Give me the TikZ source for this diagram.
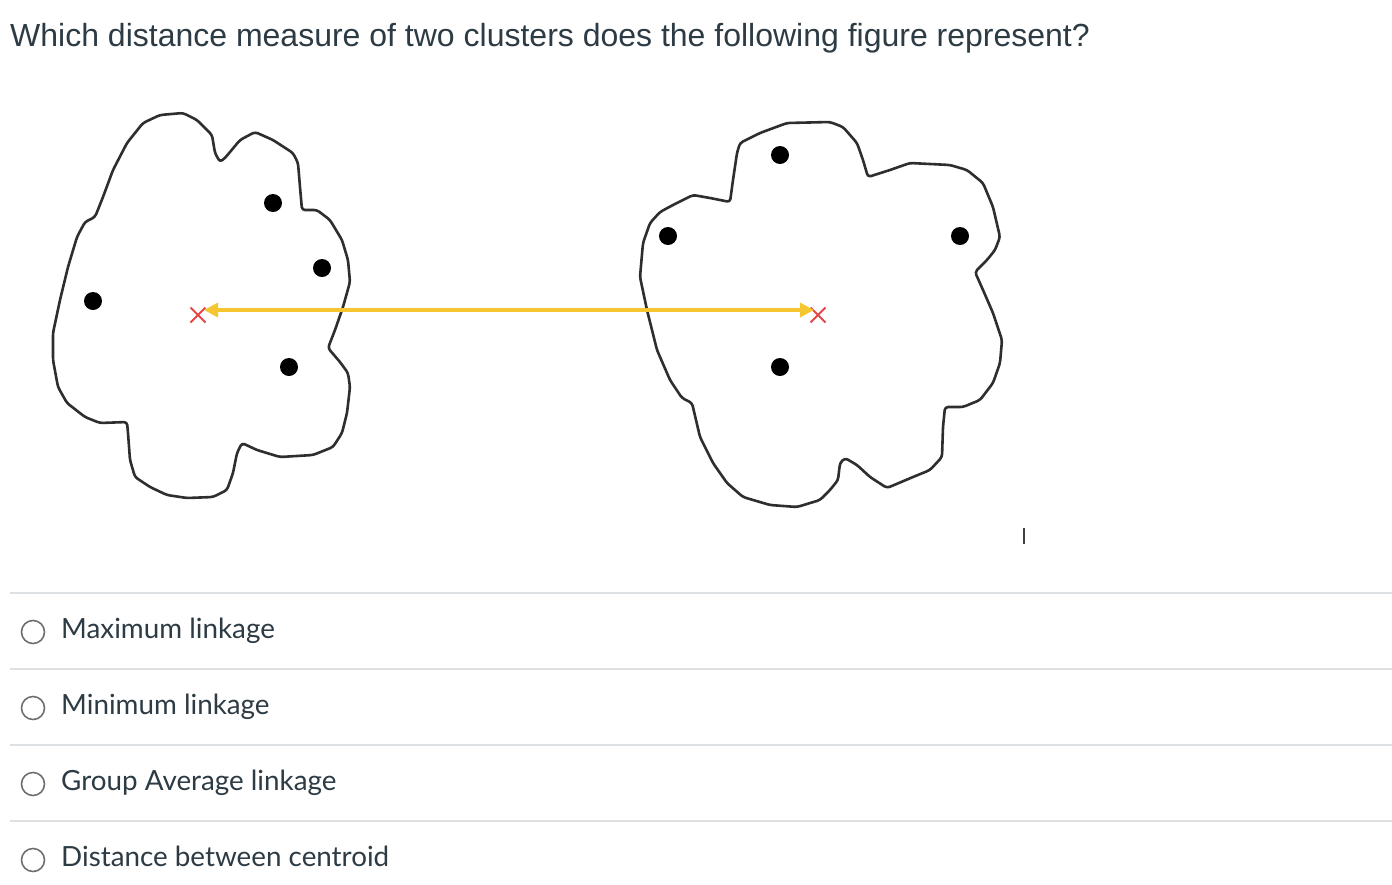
\documentclass[tikz,border=0pt]{standalone}
\usepackage{fontspec}
\setmainfont{Liberation Sans}
\newfontfamily\latofont{Lato}
\usetikzlibrary{shapes.misc,arrows.meta}
\definecolor{txt}{HTML}{2D3B45}
\definecolor{sep}{HTML}{DDE1E4}
\definecolor{radio}{HTML}{6F6F6F}
\definecolor{arrowyel}{HTML}{F6C631}
\definecolor{crossred}{HTML}{E5474B}
\definecolor{outline}{HTML}{2E2E2E}
\begin{document}
\begin{tikzpicture}[x=1pt,y=-1pt,
  blob/.style={draw=outline, line width=2.6pt, line join=round, rounded corners=3pt},
  dotpt/.style={circle, fill=black, inner sep=0pt, minimum size=18pt},
  xmark/.style={cross out, draw=crossred, line width=2pt, inner sep=0pt, minimum size=13pt},
  seprule/.style={draw=sep, line width=1.8pt},
  radiobtn/.style={circle, draw=radio, line width=1.6pt, inner sep=0pt, minimum size=23pt},
  opt/.style={anchor=base west, inner sep=0pt, text=txt, font=\latofont\fontsize{27.8}{32}\selectfont},
  link/.style={draw=arrowyel, line width=4.8pt, {Triangle[length=14pt,width=14pt]}-{Triangle[length=14pt,width=14pt]}}]
\useasboundingbox (0,0) rectangle (1392,884);
\fill[white] (0,0) rectangle (1392,884);

% title
\node[anchor=base west, inner sep=0pt, text=txt, font=\fontsize{32}{38}\selectfont] (title) at (10,46)
  {Which distance measure of two clusters does the following figure represent?};

% left cluster
\draw[blob] (183,113) -- (197,120) -- (212,135) -- (215,153) -- (220,162) -- (225,158) -- (240,140)
  -- (255,132) -- (273,140) -- (293,153) -- (298,163) -- (300,187) -- (302,210) -- (317,210)
  -- (330,220) -- (342,240) -- (348,260) -- (350,282) -- (343,307) -- (335,330) -- (328,348)
  -- (340,362) -- (348,373) -- (350,387) -- (347,413) -- (342,433) -- (333,447) -- (313,455)
  -- (280,457) -- (257,450) -- (242,443) -- (237,453) -- (233,473) -- (227,490) -- (213,497)
  -- (187,498) -- (167,495) -- (150,487) -- (135,477) -- (130,460) -- (128,433) -- (127,422)
  -- (100,423) -- (85,417) -- (67,403) -- (58,387) -- (53,360) -- (53,333) -- (60,300)
  -- (68,267) -- (77,237) -- (85,222) -- (95,217) -- (103,197) -- (113,170) -- (127,143)
  -- (143,123) -- (160,115) -- cycle;
\node[dotpt] (l1) at (273,203) {};
\node[dotpt] (l2) at (322,268) {};
\node[dotpt] (l3) at (93,301) {};
\node[dotpt] (l4) at (289,367) {};

% right cluster
\draw[blob] (740,143) -- (760,133) -- (787,123) -- (830,122) -- (843,127) -- (857,143) -- (863,160)
  -- (868,177) -- (890,170) -- (910,163) -- (950,165) -- (967,170) -- (983,183) -- (993,207)
  -- (1000,237) -- (995,250) -- (987,260) -- (975,272) -- (983,290) -- (993,313) -- (1002,340)
  -- (1000,363) -- (993,383) -- (980,400) -- (963,407) -- (945,407) -- (943,427) -- (942,457)
  -- (930,470) -- (913,477) -- (887,488) -- (870,477) -- (857,465) -- (845,458) -- (840,463)
  -- (838,480) -- (830,490) -- (820,500) -- (797,507) -- (770,505) -- (743,497) -- (727,483)
  -- (713,463) -- (700,437) -- (692,403) -- (682,398) -- (670,380) -- (657,350) -- (647,310)
  -- (640,277) -- (643,243) -- (650,223) -- (660,212) -- (673,205) -- (693,195) -- (710,198)
  -- (730,202) -- (733,180) -- (737,153) -- cycle;
\node[dotpt] (r1) at (780,155) {};
\node[dotpt] (r2) at (668,236) {};
\node[dotpt] (r3) at (960,236) {};
\node[dotpt] (r4) at (780,367) {};

% centroids and link
\node[xmark] (c1) at (198,315) {};
\node[xmark] (c2) at (818,315) {};
\coordinate (a1) at (204,310);
\coordinate (a2) at (814,310);
\draw[link] (a1) -- (a2);

% cursor mark
\draw[draw=black!75, line width=1.6pt] (1024,528) -- (1024,544);

% separators
\draw[seprule] (10,593) -- (1392,593);
\draw[seprule] (10,669) -- (1392,669);
\draw[seprule] (10,745) -- (1392,745);
\draw[seprule] (10,821) -- (1392,821);

% options
\node[radiobtn] (b1) at (33,632) {};
\node[opt] (o1) at (61,638) {Maximum linkage};
\node[radiobtn] (b2) at (33,708) {};
\node[opt] (o2) at (61,714) {Minimum linkage};
\node[radiobtn] (b3) at (33,784) {};
\node[opt] (o3) at (61,790) {Group Average linkage};
\node[radiobtn] (b4) at (33,860) {};
\node[opt] (o4) at (61,866) {Distance between centroid};
\end{tikzpicture}
\end{document}
